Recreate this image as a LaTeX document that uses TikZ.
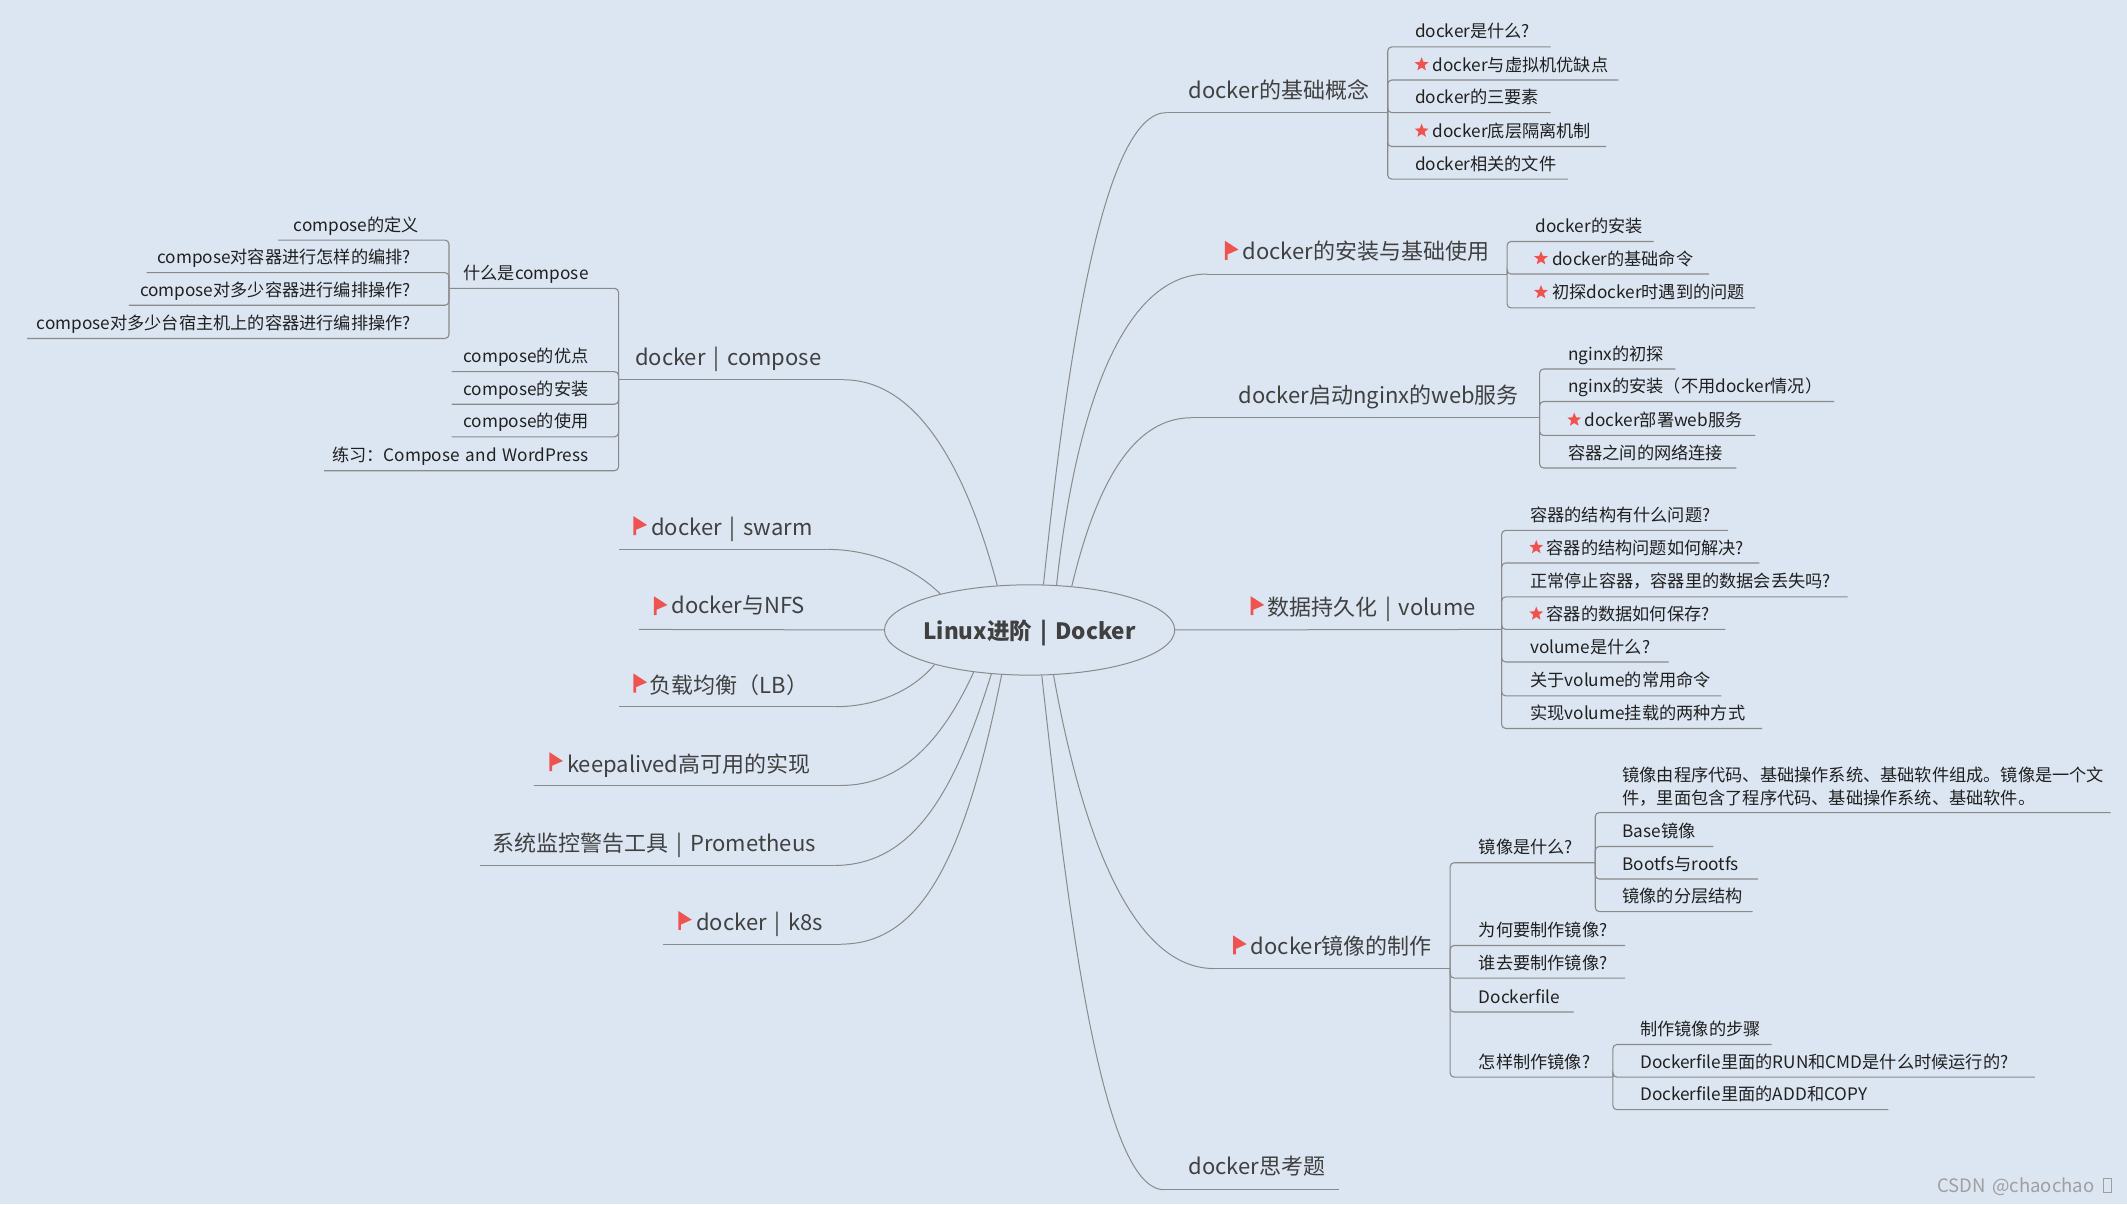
\documentclass[tikz,border=0pt]{standalone}
\usepackage{fontspec}
\setmainfont[WordSpace=1.6]{Noto Sans CJK SC}
\usetikzlibrary{shapes.geometric}
\definecolor{bgc}{HTML}{DCE6F2}
\definecolor{linec}{HTML}{8A8A8A}
\definecolor{redc}{HTML}{EF5350}
\definecolor{leafc}{HTML}{202020}
\definecolor{topicc}{HTML}{404040}
\tikzset{
  leaf/.style={inner sep=0pt,text=leafc,font=\fontsize{17.2}{23}\selectfont,anchor=base west},
  topic/.style={inner sep=0pt,text=topicc,font=\fontsize{22}{26}\selectfont,anchor=base west},
  conn/.style={draw=linec,line width=1.1pt,rounded corners=4pt},
  curve/.style={draw=linec,line width=1pt},
  rootnode/.style={ellipse,draw=linec,line width=1pt,minimum width=290.3pt,minimum height=90.3pt,inner xsep=-30pt,inner ysep=0pt,text height=20pt,text depth=0pt,text=topicc,font=\fontsize{22.5}{27}\selectfont\bfseries},
  starmark/.style={star,star points=5,star point ratio=2.3,fill=redc,minimum size=14.5pt,inner sep=0pt}
}
% right-going child: name, parent coordinate, text x, line y, end x, text
\newcommand{\kid}[6]{%
  \node[leaf] (#1) at (#3,#4-6.6) {#6};
  \coordinate (#1e) at (#5,#4);
  \draw[conn] (#2) |- (#1e);}
% left-going child: same with right aligned text (x is the right text end)
\newcommand{\lkid}[6]{%
  \node[leaf,anchor=base east] (#1) at (#3,#4-6.6) {#6};
  \coordinate (#1e) at (#5,#4);
  \draw[conn] (#2) |- (#1e);}
\newcommand{\starat}[3]{\node[starmark] (#1) at (#2,#3-11.5) {};}
\newcommand{\flagat}[2]{\fill[redc] (#1,#2-24.5) -- (#1+10,#2-18) -- (#1+2,#2-14.5) -- (#1+2,#2-10.5) -- (#1,#2-10.5) -- cycle;}
\begin{document}
\begin{tikzpicture}[x=1.35651pt,y=-1.35651pt]
\useasboundingbox[fill=bgc] (0,0) rectangle (1568,887.6);
\node[rootnode] (root) at (759,464.4) {Linux进阶 | Docker};

% docker basic concepts
\node[topic] (t1) at (876,72.6) {docker的基础概念};
\coordinate (t1a) at (860,83); \coordinate (g1) at (1023,83);
\draw[curve] (root.73) .. controls (788,250) and (815,83) .. (t1a);
\draw[curve] (t1a) -- (g1);
\kid{a1}{g1}{1043}{34.6}{1143}{docker是什么?}
\kid{a2}{g1}{1056}{59}{1193}{docker与虚拟机优缺点}\starat{a2s}{1048}{59}
\kid{a3}{g1}{1043}{83}{1143}{docker的三要素}
\kid{a4}{g1}{1056}{108}{1184}{docker底层隔离机制}\starat{a4s}{1048}{108}
\kid{a5}{g1}{1043}{132}{1156}{docker相关的文件}

% install
\node[topic] (t2) at (916,191.6) {docker的安装与基础使用};\flagat{903}{202}
\coordinate (t2a) at (890,202); \coordinate (g2) at (1111,202);
\draw[curve] (root.59) .. controls (792,310) and (825,202) .. (t2a);
\draw[curve] (t2a) -- (g2);
\kid{b1}{g2}{1132}{178}{1219}{docker的安装}
\kid{b2}{g2}{1144}{202}{1260}{docker的基础命令}\starat{b2s}{1136}{202}
\kid{b3}{g2}{1144}{227}{1294}{初探docker时遇到的问题}\starat{b3s}{1136}{227}

% nginx
\node[topic] (t3) at (913,297.6) {docker启动nginx的web服务};
\coordinate (t3a) at (878,308); \coordinate (g3) at (1135,308);
\draw[curve] (root.46) .. controls (805,370) and (830,308) .. (t3a);
\draw[curve] (t3a) -- (g3);
\kid{c1}{g3}{1156}{272}{1235}{nginx的初探}
\kid{c2}{g3}{1156}{296}{1352}{nginx的安装（不用docker情况）}
\kid{c3}{g3}{1168}{321}{1294}{docker部署web服务}\starat{c3s}{1160.5}{321}
\kid{c4}{g3}{1156}{345}{1280}{容器之间的网络连接}

% volume
\node[topic] (t4) at (934,453.6) {数据持久化 | volume};\flagat{922}{464}
\coordinate (g4) at (1107,464);
\draw[curve] (root.east) -- (g4);
\kid{d1}{g4}{1128}{391}{1274}{容器的结构有什么问题?}
\kid{d2}{g4}{1140}{415}{1297}{容器的结构问题如何解决?}\starat{d2s}{1132.5}{415}
\kid{d3}{g4}{1128}{440}{1362}{正常停止容器，容器里的数据会丢失吗?}
\kid{d4}{g4}{1140}{464}{1272}{容器的数据如何保存?}\starat{d4s}{1132.5}{464}
\kid{d5}{g4}{1128}{488}{1230}{volume是什么?}
\kid{d6}{g4}{1128}{513}{1269}{关于volume的常用命令}
\kid{d7}{g4}{1128}{537}{1299}{实现volume挂载的两种方式}

% images
\node[topic] (t5) at (922,703.6) {docker镜像的制作};\flagat{909}{714}
\coordinate (t5a) at (895,714); \coordinate (g5) at (1069,714);
\draw[curve] (root.298) .. controls (795,600) and (830,714) .. (t5a);
\draw[curve] (t5a) -- (g5);
\kid{e1}{g5}{1090}{636}{1176}{镜像是什么?}
\coordinate (g51) at (1176,636);
\node[leaf,align=left] (e11) at (1196,593) {镜像由程序代码、基础操作系统、基础软件组成。镜像是一个文\\件，里面包含了程序代码、基础操作系统、基础软件。};
\coordinate (e11e) at (1556,599);
\draw[conn] (g51) |- (e11e);
\kid{e12}{g51}{1196}{624}{1263}{Base镜像}
\kid{e13}{g51}{1196}{648}{1296}{Bootfs与rootfs}
\kid{e14}{g51}{1196}{672}{1292}{镜像的分层结构}
\kid{e2}{g5}{1090}{697}{1198}{为何要制作镜像?}
\kid{e3}{g5}{1090}{721}{1198}{谁去要制作镜像?}
\kid{e4}{g5}{1090}{746}{1160}{Dockerfile}
\kid{e5}{g5}{1090}{794}{1189}{怎样制作镜像?}
\coordinate (g55) at (1189,794);
\kid{e51}{g55}{1209}{770}{1306}{制作镜像的步骤}
\kid{e52}{g55}{1209}{794}{1500}{Dockerfile里面的RUN和CMD是什么时候运行的?}
\kid{e53}{g55}{1209}{818}{1392}{Dockerfile里面的ADD和COPY}

% thinking
\node[topic] (t6) at (876,865.6) {docker思考题};
\coordinate (t6a) at (858,877); \coordinate (t6b) at (987,877);
\draw[curve] (root.285) .. controls (785,650) and (810,877) .. (t6a);
\draw[curve] (t6a) -- (t6b);

% compose
\node[topic] (l1) at (468,269.6) {docker | compose};
\coordinate (l1a) at (622,280); \coordinate (gl1) at (456,280);
\draw[curve] (root.126) .. controls (715,355) and (680,280) .. (l1a);
\draw[curve] (l1a) -- (gl1);
\lkid{f1}{gl1}{434}{212.6}{331}{什么是compose}
\coordinate (gl11) at (331,212.6);
\lkid{f11}{gl11}{309}{177}{205}{compose的定义}
\lkid{f12}{gl11}{303}{201}{108}{compose对容器进行怎样的编排?}
\lkid{f13}{gl11}{303}{225}{95}{compose对多少容器进行编排操作?}
\lkid{f14}{gl11}{303}{249.5}{20}{compose对多少台宿主机上的容器进行编排操作?}
\lkid{f2}{gl1}{434}{274}{333}{compose的优点}
\lkid{f3}{gl1}{434}{298}{333}{compose的安装}
\lkid{f4}{gl1}{434}{322}{333}{compose的使用}
\lkid{f5}{gl1}{434}{347}{239}{练习：Compose and WordPress}

% left topics
\node[topic] (l2) at (480,394.6) {docker | swarm};\flagat{467}{405}
\coordinate (l2a) at (610,405); \coordinate (l2b) at (456,405);
\draw[curve] (root.158) .. controls (675,420) and (645,405) .. (l2a);
\draw[curve] (l2a) -- (l2b);

\node[topic] (l3) at (495,452.6) {docker与NFS};\flagat{482}{464}
\coordinate (l3b) at (471,464);
\draw[curve] (root.west) -- (l3b);

\node[topic] (l4) at (479,511.6) {负载均衡（LB）};\flagat{467}{521}
\coordinate (l4a) at (615,521); \coordinate (l4b) at (456,521);
\draw[curve] (root.200) .. controls (672,510) and (645,521) .. (l4a);
\draw[curve] (l4a) -- (l4b);

\node[topic] (l5) at (418,569.6) {keepalived高可用的实现};\flagat{405}{579}
\coordinate (l5a) at (620,579); \coordinate (l5b) at (394,579);
\draw[curve] (root.217) .. controls (695,545) and (665,579) .. (l5a);
\draw[curve] (l5a) -- (l5b);

\node[topic] (l6) at (363,627.6) {系统监控警告工具 | Prometheus};
\coordinate (l6a) at (615,638); \coordinate (l6b) at (354,638);
\draw[curve] (root.229) .. controls (705,580) and (675,638) .. (l6a);
\draw[curve] (l6a) -- (l6b);

\node[topic] (l7) at (513,685.6) {docker | k8s};\flagat{500}{696}
\coordinate (l7a) at (620,696); \coordinate (l7b) at (489,696);
\draw[curve] (root.238) .. controls (712,630) and (680,696) .. (l7a);
\draw[curve] (l7a) -- (l7b);

% watermark
\node[anchor=base west,inner sep=0pt,text=gray!75,font=\fontsize{18.5}{20}\selectfont] (wm) at (1428,879) {CSDN @chaochao};
\node[draw=gray!75,line width=.7pt,minimum width=8pt,minimum height=14pt,inner sep=0pt,anchor=south west] (wmbox) at (1550,879) {};
\end{tikzpicture}
\end{document}
